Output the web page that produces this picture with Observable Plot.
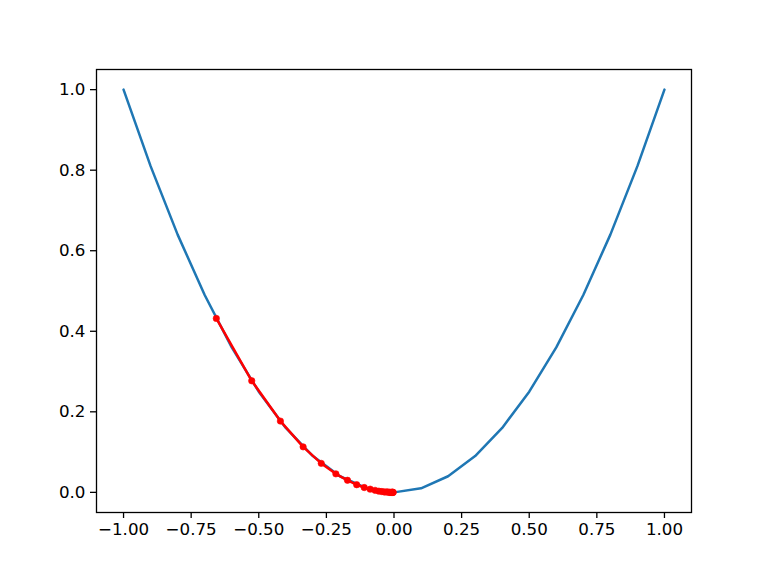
<!DOCTYPE html>
<html>
<head>
<meta charset="utf-8">
<script src="https://cdn.jsdelivr.net/npm/d3@7"></script>
<script src="https://cdn.jsdelivr.net/npm/@observablehq/plot@0.6"></script>
<style>
  html, body { margin: 0; padding: 0; background: white; }
</style>
</head>
<body>
<div id="chart"></div>
<script>
const curveX = [-1.0, -0.9, -0.8, -0.7, -0.6, -0.5, -0.4, -0.3, -0.2, -0.1, 0.0, 0.1, 0.2, 0.3, 0.4, 0.5, 0.6, 0.7, 0.8, 0.9, 1.0];
const curveY = [1.00, 0.81, 0.64, 0.49, 0.36, 0.25, 0.16, 0.09, 0.04, 0.01, 0.00, 0.01, 0.04, 0.09, 0.16, 0.25, 0.36, 0.49, 0.64, 0.81, 1.00];

const pathX = [-0.657, -0.526, -0.420, -0.336, -0.269, -0.215, -0.172, -0.138, -0.110, -0.088, -0.070, -0.056, -0.045, -0.036, -0.029, -0.023, -0.018, -0.015, -0.012, -0.009, -0.008, -0.006, -0.005, -0.004, -0.003];
const pathY = [0.432, 0.277, 0.177, 0.113, 0.072, 0.046, 0.030, 0.019, 0.012, 0.008, 0.005, 0.003, 0.002, 0.001, 0.001, 0.001, 0.000, 0.000, 0.000, 0.000, 0.000, 0.000, 0.000, 0.000, 0.000];

const xTicks = [-1.00, -0.75, -0.50, -0.25, 0.00, 0.25, 0.50, 0.75, 1.00];
const yTicks = [0.0, 0.2, 0.4, 0.6, 0.8, 1.0];

const curve = curveX.map((x, i) => ({x, y: curveY[i]}));
const path = pathX.map((x, i) => ({x, y: pathY[i]}));

const chart = Plot.plot({
  width: 768,
  height: 576,
  marginLeft: 96,
  marginRight: 77,
  marginTop: 69,
  marginBottom: 64,
  x: {domain: [-1.1, 1.1]},
  y: {domain: [-0.05, 1.05]},
  style: {fontFamily: "DejaVu Sans", fontSize: "16.7px", background: "white", color: "black"},
  marks: [
    Plot.line(curve, {x: "x", y: "y", stroke: "#1f77b4", strokeWidth: 2.5}),
    Plot.line(path, {x: "x", y: "y", stroke: "red", strokeWidth: 2.5}),
    Plot.dot(path, {x: "x", y: "y", r: 3.2, fill: "red", stroke: "red", strokeWidth: 0.6}),
    Plot.frame({stroke: "black", strokeWidth: 1.3}),
    Plot.axisX({ticks: xTicks, tickFormat: d3.format(".2f"), tickSize: 6, tickPadding: 5, label: null, fontSize: 16.7, strokeWidth: 1.3}),
    Plot.axisY({ticks: yTicks, tickFormat: d3.format(".1f"), tickSize: 6, tickPadding: 5, label: null, fontSize: 16.7, strokeWidth: 1.3})
  ]
});
document.getElementById("chart").appendChild(chart);
</script>
</body>
</html>
